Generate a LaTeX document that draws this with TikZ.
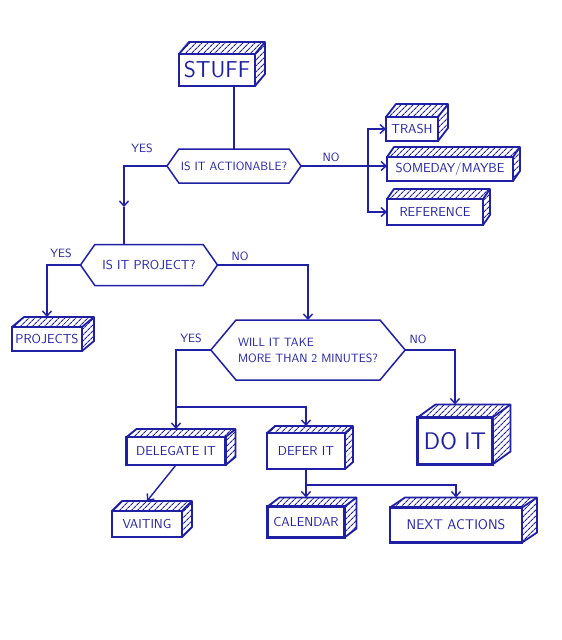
\documentclass[tikz,border=0pt]{standalone}
\usetikzlibrary{shapes.symbols,arrows.meta,patterns.meta}
\definecolor{pen}{RGB}{32,32,165}
\tikzset{
  block/.style={draw=pen,line width=2.2pt,fill=white,text=pen,outer sep=0pt,inner sep=1pt,
    font=\sffamily\fontsize{13}{15}\selectfont},
  ask/.style={signal,signal to=west and east,signal pointer angle=110,draw=pen,line width=1.5pt,
    fill=white,text=pen,outer sep=0pt,inner sep=2pt,font=\sffamily\fontsize{12}{14}\selectfont},
  answer/.style={text=pen,font=\sffamily\fontsize{12}{14}\selectfont},
  hatch/.style={draw=pen,line width=1.8pt,line join=round,
    pattern={Lines[angle=45,distance=4pt,line width=1.2pt]},pattern color=pen},
  link/.style={draw=pen,line width=1.4pt},
  >={Straight Barb[length=5pt,width=9pt]}
}
% top and right face of a box: node, shift right, shift up
\newcommand{\solid}[3]{%
  \path[hatch] (#1.north west) -- ++(#2,-#3) -- ([shift={(#2,-#3)}]#1.north east)
    -- ([shift={(#2,-#3)}]#1.south east) -- (#1.south east) -- (#1.north east) -- cycle;
  \draw[pen,line width=1.8pt] (#1.north east) -- ++(#2,-#3);}

\begin{document}
\begin{tikzpicture}[x=1pt,y=-1pt]
	\fill[white] (0,0) rectangle (562,640);
	\useasboundingbox (0,0) rectangle (562,640);
	% boxes
	\node[block,minimum width=76,minimum height=32,font=\sffamily\fontsize{23}{25}\selectfont] (stuff) at (217,70) {STUFF};
	\node[block,minimum width=52,minimum height=24] (trash) at (412,129) {TRASH};
	\node[block,minimum width=126,minimum height=24] (someday) at (450,169) {SOMEDAY/MAYBE};
	\node[block,minimum width=96,minimum height=26] (reference) at (435,212) {REFERENCE};
	\node[block,minimum width=70,minimum height=24] (projects) at (47,339) {PROJECTS};
	\node[block,minimum width=75,minimum height=47,font=\sffamily\fontsize{24}{26}\selectfont] (doit) at (455,441) {DO IT};
	\node[block,minimum width=99,minimum height=28] (delegate) at (176,451) {DELEGATE IT};
	\node[block,minimum width=78,minimum height=36] (defer) at (306,451) {DEFER IT};
	\node[block,minimum width=70,minimum height=26] (waiting) at (147,524) {VAITING};
	\node[block,minimum width=77,minimum height=31] (calendar) at (306,522) {CALENDAR};
	\node[block,minimum width=132,minimum height=35,font=\sffamily\fontsize{14}{16}\selectfont] (next) at (456,525) {NEXT ACTIONS};
	\solid{stuff}{10}{12}
	\solid{trash}{10}{13}
	\solid{someday}{7}{10}
	\solid{reference}{7}{10}
	\solid{projects}{12}{10}
	\solid{doit}{18}{13}
	\solid{delegate}{10}{8}
	\solid{defer}{8}{7}
	\solid{waiting}{10}{10}
	\solid{calendar}{12}{9}
	\solid{next}{15}{10}
	% questions
	\node[ask,minimum width=133,minimum height=34] (actionable) at (234,166) {IS IT ACTIONABLE?};
	\node[ask,minimum width=137,minimum height=41,font=\sffamily\fontsize{13}{15}\selectfont] (project) at (149,265) {IS IT PROJECT?};
	\node[ask,minimum width=180,minimum height=60,align=left,signal pointer angle=100] (twomin) at (308,350) {WILL IT TAKE\\[2pt]MORE THAN 2 MINUTES?};
	% answers
	\node[answer] (yes1) at (142,148) {YES};
	\node[answer] (no1) at (331,157) {NO};
	\node[answer] (yes2) at (61,253) {YES};
	\node[answer] (no2) at (240,256) {NO};
	\node[answer] (yes3) at (191,338) {YES};
	\node[answer] (no3) at (418,339) {NO};
	% lines
	\draw[link] (actionable.north |- stuff.south) -- (actionable.north);
	\draw[link,->] (actionable.east) -- (actionable.east -| someday.west);
	\coordinate (fork1) at (368,166);
	\draw[link,->] (fork1) |- (trash.west);
	\draw[link,->] (fork1) |- (reference.west);
	\coordinate (mid1) at (124,207);
	\draw[link,->] (actionable.west) -| (mid1);
	\draw[link] (mid1) -- (mid1 |- project.north);
	\draw[link,->] (project.west) -| ([yshift=10pt]projects.north);
	\draw[link,->] (project.east) -| (twomin.north);
	\coordinate (fork2) at (delegate.north |- 0,407);
	\draw[link,->] (twomin.west) -| ([yshift=8pt]delegate.north);
	\draw[link,->] (fork2) -| ([yshift=7pt]defer.north);
	\draw[link,->] (twomin.east) -| ([yshift=13pt]doit.north);
	\draw[link,->] (delegate.south) -- ([yshift=10pt]waiting.north);
	\coordinate (fork3) at (defer.south |- 0,485);
	\draw[link,->] (defer.south) -- ([yshift=9pt]calendar.north);
	\draw[link,->] (fork3) -| ([yshift=10pt]next.north);
\end{tikzpicture}
\end{document}
